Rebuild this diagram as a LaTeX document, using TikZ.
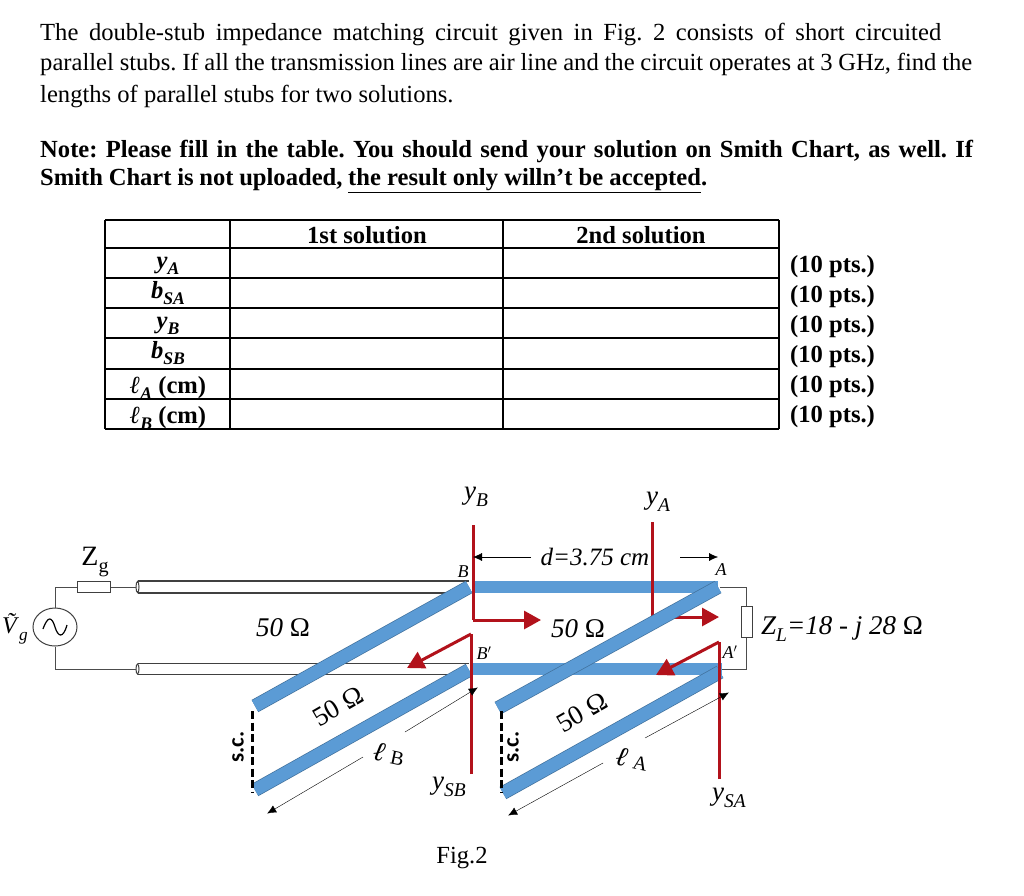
\documentclass[tikz,border=0pt]{standalone}
\usepackage{fontspec}
\setmainfont{Liberation Serif}
\newfontfamily\scfont{Carlito}
\usetikzlibrary{shapes,arrows,arrows.meta,calc,positioning}
\definecolor{stubblue}{HTML}{5B9BD5}
\definecolor{stubedge}{HTML}{41719C}
\definecolor{probered}{HTML}{B2121B}
\newcommand{\lowsub}[1]{\raisebox{-.28em}{\scalebox{.72}{#1}}}
\newcommand{\itsub}[2]{\textit{#1}\lowsub{\textit{#2}}}
\newcommand{\fs}[1]{\fontsize{#1}{#1}\selectfont}
\AtBeginDocument{\frenchspacing}
\tikzset{ar/.style={-{Latex[length=9pt,width=8pt]},thin,shorten >=-1pt}}
\tikzset{%
    redar/.style={draw=probered,line width=3pt,-{Triangle[length=17pt,width=18pt]}},
    redln/.style={draw=probered,line width=3pt},
}
\tikzstyle{txt}=[inner sep=0pt,anchor=base west,font=\fs{24.6}]
\tikzstyle{bld}=[inner sep=0pt,anchor=base,font=\fs{24.6}\bfseries]
\tikzstyle{lab}=[inner sep=0pt,font=\fs{27}]
\tikzstyle{stub}=[draw=stubedge,line width=0.7pt,double=stubblue,double distance=11.5pt]
\tikzstyle{stubd}=[stub,double distance=12.5pt]
\tikzstyle{tube}=[draw=black!75,line width=1.2pt]
\tikzstyle{int}=[draw=black!75,fill=white,inner sep=0pt,line width=1pt]
\tikzstyle{short}=[draw=black,line width=3pt,dash pattern=on 8pt off 3.5pt]

\begin{document}
\begin{tikzpicture}[x=1pt,y=-1pt,>=latex']
      \useasboundingbox [fill=white] (0,0) rectangle (1024,895);
      % question text
      \node [txt] (l1) at (40,40.5) {\makebox[901pt][s]{The double-stub impedance matching circuit given in Fig. 2 consists of short circuited}};
      \node [txt] (l2) at (40,70.5) {\makebox[932pt][s]{parallel stubs. If all the transmission lines are air line and the circuit operates at 3 GHz, find the}};
      \node [txt] (l3) at (40,102.5) {lengths of parallel stubs for two solutions.};
      \node [txt,font=\fs{24.6}\bfseries] (n1) at (40,157.5) {\makebox[933pt][s]{Note: Please fill in the table. You should send your solution on Smith Chart, as well. If}};
      \node [txt,font=\fs{24.6}\bfseries] (n2) at (40,185.5) {\makebox[667pt][s]{Smith Chart is not uploaded, \underline{the result only willn't be accepted}.}};

      % table
      \foreach \y in {220,248,278,308,338,369,399,429}
        \draw [line width=1.2pt] (105,\y) -- (779,\y);
      \foreach \x in {105,230,503,779}
        \draw [line width=1.2pt] (\x,220) -- (\x,429);
      \node [bld] (h1) at (367,243) {1st solution};
      \node [bld] (h2) at (641,243) {2nd solution};
      \foreach \i/\y/\t in {1/268/\itsub{y}{A},2/298/\itsub{b}{SA},3/328/\itsub{y}{B},4/358/\itsub{b}{SB},5/393/\itsub{ℓ}{A} (cm),6/423/\itsub{ℓ}{B} (cm)}
        \node [bld] (row\i) at (168,\y) {\t};
      \foreach \i/\y in {1/272,2/302,3/332,4/362,5/392,6/422}
        \node [bld,anchor=base west] (pts\i) at (790,\y) {(10 pts.)};

      % source and load
      \node [ellipse,int,minimum width=44pt,minimum height=38pt] (src) at (55,627) {};
      \draw [line width=1.2pt] (43,629) .. controls (48,615) and (52,617) .. (55,627) .. controls (58,637) and (63,639) .. (67,625);
      \node [int,minimum width=33pt,minimum height=11pt] (zg) at (93.5,587) {};
      \node [int,minimum width=11pt,minimum height=31pt] (zl) at (746.5,621.5) {};
      \node [ellipse,int,minimum width=3pt,minimum height=11pt] (capu) at (137.5,587) {};
      \node [ellipse,int,minimum width=3pt,minimum height=10pt] (capl) at (137.5,669) {};
      \coordinate (A) at (720,587);
      \coordinate (Ap) at (722,669);
      \coordinate (B) at (469,587);
      \coordinate (Bp) at (469,670);
      \draw [draw=black!70,thin] (src.north) |- (zg.west);
      \draw [draw=black!70,thin] (zg.east) -- (capu.west);
      \draw [draw=black!70,thin] (src.south) |- (capl.west);
      \draw [draw=black!70,thin] (A) -| (zl.north);
      \draw [draw=black!70,thin] (Ap) -| (zl.south);

      % lines
      \draw [tube] (capu.north) -- (B |- capu.north);
      \draw [tube] (capu.south) -- (B |- capu.south);
      \draw [tube] (capl.north) -- (Bp |- capl.north);
      \draw [tube] (capl.south) -- (Bp |- capl.south);
      \draw [stub] (472,587) -- (718,587);
      \draw [stub] (472,669) -- (722,669);

      % probe under the stub
      \coordinate (yat) at (652,522);
      \coordinate (yac) at (652,617);
      \coordinate (yae) at (719,617);
      \draw [redln] (yat) -- (yac);
      \draw [redar] (yac) -- (yae);

      % stubs
      \coordinate (Bs) at (255,706);
      \coordinate (Bps) at (255,790);
      \coordinate (As) at (498,708);
      \coordinate (Aps) at (503,793);
      \draw [stubd] (B) -- (Bs);
      \draw [stubd] (Bp) -- (Bps);
      \draw [stubd] (718,587) -- (As);
      \draw [stubd] (720,672) -- (Aps);
      \draw [short] (252,711) -- (252,793);
      \draw [short] (501,711) -- (501,793);
      \node [inner sep=0pt,rotate=90,font=\fs{23}\scfont\bfseries] (scb) at (238,747) {s.c.};
      \node [inner sep=0pt,rotate=90,font=\fs{23}\scfont\bfseries] (sca) at (513,747) {s.c.};

      % probes
      \coordinate (ybt) at (473,525);
      \coordinate (ybc) at (473,620);
      \coordinate (ybe) at (541,620);
      \draw [redln] (ybt) -- (ybc);
      \draw [redar] (ybc) -- (ybe);
      \coordinate (ysbt) at (471,774);
      \coordinate (ysbc) at (471,634);
      \coordinate (ysbe) at (407,668);
      \draw [redln] (ysbt) -- (ysbc);
      \draw [redar] (ysbc) -- (ysbe);
      \coordinate (ysat) at (719,779);
      \coordinate (ysac) at (719,642);
      \coordinate (ysae) at (656,675);
      \draw [redln] (ysat) -- (ysac);
      \draw [redar] (ysac) -- (ysae);

      % labels
      \node [lab,font=\fs{28}] (zgl) at (95,562) {Z\lowsub{g}};
      \node [lab,anchor=west,font=\fs{24}] (vg) at (2,629) {\itsub{\~V}{g}};
      \node [lab] (yb) at (476,497) {\itsub{y}{B}};
      \node [lab] (ya) at (658,502) {\itsub{y}{A}};
      \node [lab] (ysb) at (449,787) {\itsub{y}{SB}};
      \node [lab] (ysa) at (729,798) {\itsub{y}{SA}};
      \node [lab,font=\fs{18}\itshape] (bl) at (463,572) {B};
      \node [lab,font=\fs{18}\itshape] (bpl) at (484,653) {B$'$};
      \node [lab,font=\fs{18}\itshape] (al) at (721,570) {A};
      \node [lab,font=\fs{18}\itshape] (apl) at (730,652) {A$'$};
      \node [lab,font=\fs{27}\itshape] (z1) at (283,628) {50 \textup{Ω}};
      \node [lab,font=\fs{27}\itshape] (z2) at (578,629) {50 \textup{Ω}};
      \node [lab,rotate=30] (z3) at (338,706) {50 Ω};
      \node [lab,rotate=30] (z4) at (582,712) {50 Ω};
      \node [lab,font=\fs{27}\itshape] (zll) at (842,629) {\itsub{Z}{L}=18 - j 28 \textup{Ω}};
      \node [lab,font=\fs{25}\itshape] (dl) at (595,557) {d=3.75 cm};
      \node [lab,font=\fs{24.6}] (fig) at (462,858) {Fig.2};

      % dimensions
      \node [lab,rotate=-12] (lb) at (389,754) {\textit{ℓ} \fs{20}B};
      \node [lab,rotate=-12] (la) at (632,759) {\textit{ℓ} \fs{20}A};
      \coordinate (du) at (531,557);
      \coordinate (dv) at (474,557);
      \coordinate (dw) at (680,557);
      \coordinate (dx) at (717,557);
      \draw [ar] (du) -- (dv);
      \draw [ar] (dw) -- (dx);
      \draw [ar] (405,732) -- (477,688);
      \draw [ar] (363,757) -- (268,813);
      \draw [ar] (645,738) -- (728,693);
      \draw [ar] (603,763) -- (509,815);
    \end{tikzpicture}
\end{document}
